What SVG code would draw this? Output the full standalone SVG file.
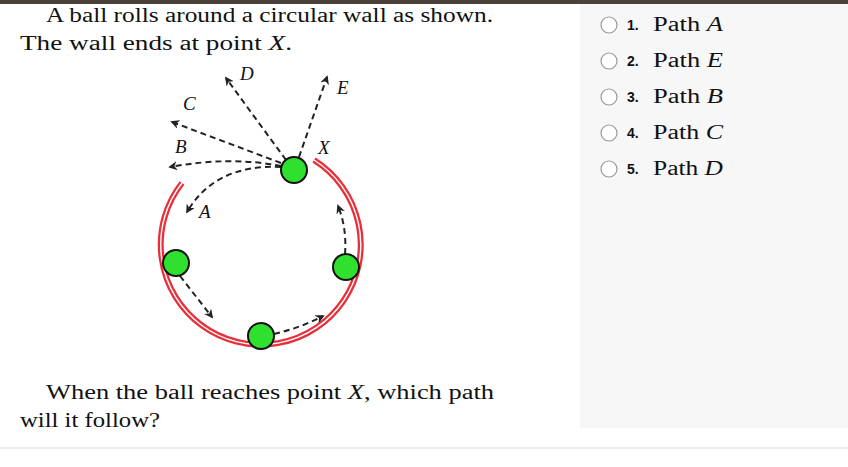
<svg xmlns="http://www.w3.org/2000/svg" width="848" height="467" viewBox="0 0 848 467">
<defs>
<marker id="ah" viewBox="0 0 10 10" refX="8" refY="5" markerWidth="9" markerHeight="9" orient="auto" markerUnits="userSpaceOnUse"><path d="M0,0 L10,5 L0,10 L3,5 Z" fill="#222"/></marker>
</defs>
<style>
.t{font-family:"Liberation Serif",serif;font-size:20px;fill:#111}
.l{font-family:"Liberation Serif",serif;font-size:19px;font-style:italic;fill:#111}
.n{font-family:"Liberation Sans",sans-serif;font-size:14px;font-weight:bold;fill:#111}
.d{fill:none;stroke:#222;stroke-width:2;stroke-dasharray:6,4;marker-end:url(#ah)}
.ball{fill:#2fe02f;stroke:#111;stroke-width:2}
.rb{fill:#fff;stroke:#999;stroke-width:1.2}
</style>
<rect width="848" height="467" fill="#fff"/>
<rect x="0" y="0" width="848" height="4" fill="#4a4238"/>
<rect x="580" y="4" width="268" height="424" fill="#f7f7f7"/>
<line x1="0" y1="448" x2="848" y2="448" stroke="#ddd"/>
<text class="t" x="46" y="22" textLength="447" lengthAdjust="spacingAndGlyphs">A ball rolls around a circular wall as shown.</text>
<text class="t" x="20" y="50" textLength="272" lengthAdjust="spacingAndGlyphs">The wall ends at point <tspan font-style="italic">X</tspan>.</text>
<text class="t" x="46" y="399" textLength="448" lengthAdjust="spacingAndGlyphs">When the ball reaches point <tspan font-style="italic">X</tspan>, which path</text>
<text class="t" x="20" y="427" textLength="140" lengthAdjust="spacingAndGlyphs">will it follow?</text>
<g id="wall">
<path d="M314,160 A100,100 0 1 1 182,183" fill="none" stroke="#e8303a" stroke-width="6"/>
<path d="M314,160 A100,100 0 1 1 182,183" fill="none" stroke="#fff" stroke-width="1.4"/>
</g>
<g id="connectors">
<path class="d" d="M180,276 L212,317"/>
<path class="d" d="M274,334 Q300,328 323,316"/>
<path class="d" d="M345,254 Q347,228 338,206"/>
<path class="d" d="M286,160 L226,78"/>
<path class="d" d="M299,157 L327,77"/>
<path class="d" d="M281,163 L172,122"/>
<path class="d" d="M281,166 Q230,156 170,167"/>
<path class="d" d="M281,167 Q215,164 187,212"/>
</g>
<g id="balls">
<circle class="ball" cx="294" cy="170" r="13"/>
<circle class="ball" cx="176" cy="263" r="13"/>
<circle class="ball" cx="346" cy="267" r="13"/>
<circle class="ball" cx="261" cy="336" r="13"/>
</g>
<g id="labels">
<text class="l" x="240" y="80">D</text>
<text class="l" x="337" y="94">E</text>
<text class="l" x="183" y="110">C</text>
<text class="l" x="175" y="153">B</text>
<text class="l" x="318" y="154">X</text>
<text class="l" x="199" y="218">A</text>
</g>
<g id="options">
<circle class="rb" cx="609" cy="25" r="8"/><text class="n" x="627" y="30">1.</text><text class="t" x="653" y="31" textLength="70" lengthAdjust="spacingAndGlyphs">Path <tspan font-style="italic">A</tspan></text>
<circle class="rb" cx="609" cy="61" r="8"/><text class="n" x="627" y="66">2.</text><text class="t" x="653" y="67" textLength="70" lengthAdjust="spacingAndGlyphs">Path <tspan font-style="italic">E</tspan></text>
<circle class="rb" cx="609" cy="97" r="8"/><text class="n" x="627" y="102">3.</text><text class="t" x="653" y="103" textLength="70" lengthAdjust="spacingAndGlyphs">Path <tspan font-style="italic">B</tspan></text>
<circle class="rb" cx="609" cy="133" r="8"/><text class="n" x="627" y="138">4.</text><text class="t" x="653" y="139" textLength="70" lengthAdjust="spacingAndGlyphs">Path <tspan font-style="italic">C</tspan></text>
<circle class="rb" cx="609" cy="169" r="8"/><text class="n" x="627" y="174">5.</text><text class="t" x="653" y="175" textLength="70" lengthAdjust="spacingAndGlyphs">Path <tspan font-style="italic">D</tspan></text>
</g>
</svg>
